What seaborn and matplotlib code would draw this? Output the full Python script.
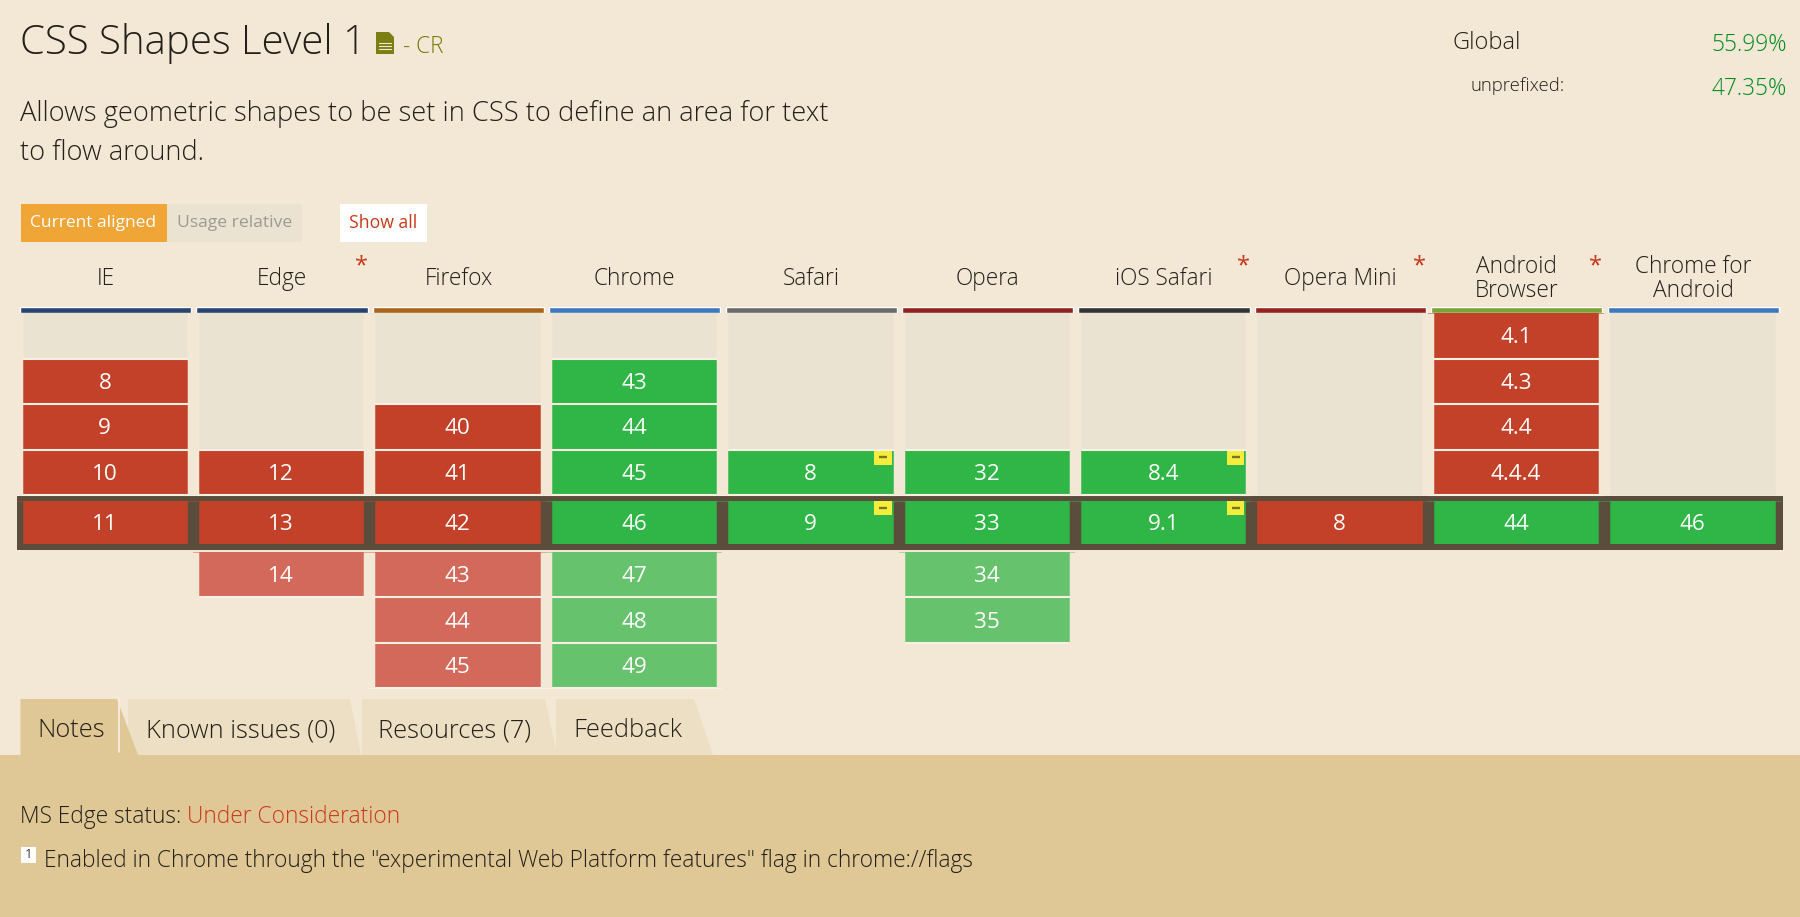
import matplotlib
matplotlib.use("Agg")
import matplotlib.pyplot as plt
from matplotlib.colors import ListedColormap
from matplotlib.patches import Rectangle, Polygon
import numpy as np
import pandas as pd
import seaborn as sns

W, H = 1800, 917

BG = "#F3E8D6"
PANEL = "#E0C796"
FRAME = "#5B4D3C"
RED_TEXT = "#C8391A"
# empty, red, green, light red, light green
cell_cmap = ListedColormap(["#EBE3D1", "#C44129", "#30B646", "#D2695A", "#67C26E"])

browsers = ["IE", "Edge", "Firefox", "Chrome", "Safari", "Opera", "iOS Safari",
            "Opera Mini", "Android\nBrowser", "Chrome for\nAndroid"]
header_colors = ["#27436F", "#27436F", "#A9651E", "#3F78C0", "#6A6A6A",
                 "#8F2320", "#333333", "#94231F", "#7BA33A", "#3F78C0"]
starred = ["Edge", "iOS Safari", "Opera Mini", "Android\nBrowser"]

past_versions = [
    ["", "", "", "", "", "", "", "", "4.1", ""],
    ["8", "", "", "43", "", "", "", "", "4.3", ""],
    ["9", "", "40", "44", "", "", "", "", "4.4", ""],
    ["10", "12", "41", "45", "8", "32", "8.4", "", "4.4.4", ""],
]
past_status = [
    [0, 0, 0, 0, 0, 0, 0, 0, 1, 0],
    [1, 0, 0, 2, 0, 0, 0, 0, 1, 0],
    [1, 0, 1, 2, 0, 0, 0, 0, 1, 0],
    [1, 1, 1, 2, 2, 2, 2, 0, 1, 0],
]
past_partial = [(3, 4), (3, 6)]

current_versions = [["11", "13", "42", "46", "9", "33", "9.1", "8", "44", "46"]]
current_status = [[1, 1, 1, 2, 2, 2, 2, 1, 2, 2]]
current_partial = [(0, 4), (0, 6)]

future_versions = [
    ["", "14", "43", "47", "", "34", "", "", "", ""],
    ["", "", "44", "48", "", "35", "", "", "", ""],
    ["", "", "45", "49", "", "", "", "", "", ""],
]
future_status = [
    [0, 3, 3, 4, 0, 4, 0, 0, 0, 0],
    [0, 0, 3, 4, 0, 4, 0, 0, 0, 0],
    [0, 0, 3, 4, 0, 0, 0, 0, 0, 0],
]

tabs = ["Notes", "Known issues (0)", "Resources (7)", "Feedback"]

sns.set_theme(style="white")
plt.rcParams["font.family"] = ["Open Sans", "DejaVu Sans"]

GRID_LEFT, GRID_RIGHT = 17.4, 1781.4
PITCH = (GRID_RIGHT - GRID_LEFT) / len(browsers)
CELL_SHIFT = -0.8
GAP_PT = 11.5 * 0.72


def make_axes(fig, x0, y0, x1, y1, zorder=2):
    return fig.add_axes([x0 / W, 1 - y1 / H, (x1 - x0) / W, (y1 - y0) / H], zorder=zorder)


def draw_rows(fig, y0, y1, versions, status, partial, mask_empty, gap_color, row_gaps):
    ax = make_axes(fig, GRID_LEFT + CELL_SHIFT, y0, GRID_RIGHT + CELL_SHIFT, y1)
    status = np.array(status)
    sns.heatmap(status, ax=ax, cmap=cell_cmap, vmin=-0.5, vmax=4.5, cbar=False,
                mask=(status == 0) if mask_empty else None,
                annot=np.array(versions), fmt="", xticklabels=False, yticklabels=False,
                annot_kws={"color": "white", "fontsize": 16.2})
    ax.axis("off")
    nrows, ncols = status.shape
    row_h = (y1 - y0) / nrows
    # numbers sit a little under the cell middle
    for t in ax.texts:
        tx, ty = t.get_position()
        t.set_position((tx, ty + 2.2 / row_h))
    # light rule between rows, only where one of the two cells is filled
    for r in range(1, nrows + 1):
        for c in range(ncols):
            above = status[r - 1, c]
            below = status[r, c] if r < nrows else 0
            if row_gaps and (above or below):
                ax.hlines(r, c, c + 1, color="#F8F0E3", lw=1.5, clip_on=False, zorder=2)
    ax.vlines(range(ncols + 1), 0, nrows, color=gap_color, lw=GAP_PT, zorder=2.5)
    for r, c in partial:
        bw, bh = 17.5 / PITCH, 14 / row_h
        bx = c + 1 - 7 / PITCH - bw
        by = r + (1 if r else 0.5) / row_h
        ax.add_patch(Rectangle((bx, by), bw, bh, color="#F3EE3C", zorder=3, lw=0))
        ax.plot([bx + bw * 0.27, bx + bw * 0.73], [by + bh * 0.47] * 2, color="#7A7524",
                lw=1.7, solid_capstyle="butt", zorder=4)
    return ax


fig = plt.figure(figsize=(W / 100, H / 100), dpi=100, facecolor=BG)

# whole page in pixels for the surrounding furniture
page = fig.add_axes([0, 0, 1, 1], zorder=0)
page.set_xlim(0, W)
page.set_ylim(H, 0)
page.axis("off")


def rect(x0, y0, x1, y1, color, zorder=1):
    page.add_patch(Rectangle((x0, y0), x1 - x0, y1 - y0, color=color, lw=0, zorder=zorder))


INK = "#222018"
LIGHT = {"fontweight": "light"}

page.text(20, 54, "CSS Shapes Level 1", fontsize=28.9, color=INK, va="baseline", **LIGHT)
page.add_patch(Polygon([(376, 32), (389, 32), (394, 37), (394, 54), (376, 54)], color="#7B7F12", lw=0))
for yy in (43, 46, 49):
    page.plot([379, 391], [yy, yy], color=BG, lw=0.8)
page.text(403, 53, "- CR", fontsize=16.3, color="#757A0C", va="baseline", **LIGHT)
page.text(20, 121, "Allows geometric shapes to be set in CSS to define an area for text",
          fontsize=19.6, color=INK, va="baseline", **LIGHT)
page.text(20, 160, "to flow around.", fontsize=19.6, color=INK, va="baseline", **LIGHT)

page.text(1453, 49, "Global", fontsize=17, color=INK, va="baseline", **LIGHT)
page.text(1787, 51, "55.99%", fontsize=16.3, color="#008A1E", va="baseline", ha="right", **LIGHT)
page.text(1471, 91, "unprefixed:", fontsize=13.3, color=INK, va="baseline", **LIGHT)
page.text(1787, 95, "47.35%", fontsize=16.3, color="#008A1E", va="baseline", ha="right", **LIGHT)

rect(21, 204, 167, 242, "#F0A537")
rect(167, 204, 302, 242, "#EBE3D1")
rect(340, 204, 427, 242, "white")
page.text(93.5, 223, "Current aligned", fontsize=12.5, color="white", ha="center", va="center")
page.text(234.5, 223, "Usage relative", fontsize=12.6, color="#9C9A94", ha="center", va="center")
page.text(383.5, 223, "Show all", fontsize=12.7, color=RED_TEXT, ha="center", va="center")

# column titles
for i, name in enumerate(browsers):
    cx = GRID_LEFT + PITCH * (i + 0.5)
    page.text(cx, 279, name, fontsize=16.3, color=INK, ha="center", va="center",
              linespacing=1.02, **LIGHT)
    if name in starred:
        page.text(cx + 79, 266, "*", fontsize=17, color=RED_TEXT, ha="center", va="center")

# coloured strip under the titles
strip = make_axes(fig, GRID_LEFT, 306.5, GRID_RIGHT, 312.5)
strip_df = pd.DataFrame({"browser": browsers, "size": [1] * len(browsers)})
sns.barplot(data=strip_df, x="browser", y="size", hue="browser", ax=strip,
            palette=header_colors, legend=False, width=0.97, saturation=1)
strip.set_xlim(-0.5, len(browsers) - 0.5)
strip.set_ylim(0, 1)
strip.axis("off")

# dark frame behind the current versions
rect(17, 495.7, 1783, 549.5, FRAME)

draw_rows(fig, 313, 495, past_versions, past_status, past_partial, False, BG, True)
draw_rows(fig, 500.7, 544.3, current_versions, current_status, current_partial, False, FRAME, False)
draw_rows(fig, 552, 688, future_versions, future_status, [], True, BG, True)

# tabs and notes panel
rect(0, 754.5, W, H, PANEL)
tab_shapes = [(128, 350, 361), (362, 545, 557), (556, 694, 713)]
for x0, x1, x2 in tab_shapes:
    page.add_patch(Polygon([(x0, 699), (x1, 699), (x2, 755), (x0, 755)], color="#EDDFC4", lw=0, zorder=1))
page.add_patch(Polygon([(20.5, 699), (117, 699), (138, 755), (20.5, 755)], color=PANEL, lw=0, zorder=1))
page.plot([118.5, 118.5], [699, 752], color="#F8F0E3", lw=1.2, zorder=2)
for label, x in zip(tabs, [37.5, 146, 378, 573]):
    page.text(x, 737, label, fontsize=18.3, color=INK, va="baseline", zorder=3, **LIGHT)

page.text(20, 823, "MS Edge status: ", fontsize=16.35, color=INK, va="baseline", **LIGHT)
page.text(187, 823, "Under Consideration", fontsize=16.35, color=RED_TEXT, va="baseline", **LIGHT)
rect(20.5, 847, 36, 863, "white", zorder=2)
page.text(28.2, 855, "1", fontsize=9.5, color="#333333", ha="center", va="center", zorder=3)
page.text(44.5, 867, 'Enabled in Chrome through the "experimental Web Platform features" flag in chrome://flags',
          fontsize=16.35, color=INK, va="baseline", **LIGHT)

fig.savefig("out.png", dpi=100, facecolor=BG)
